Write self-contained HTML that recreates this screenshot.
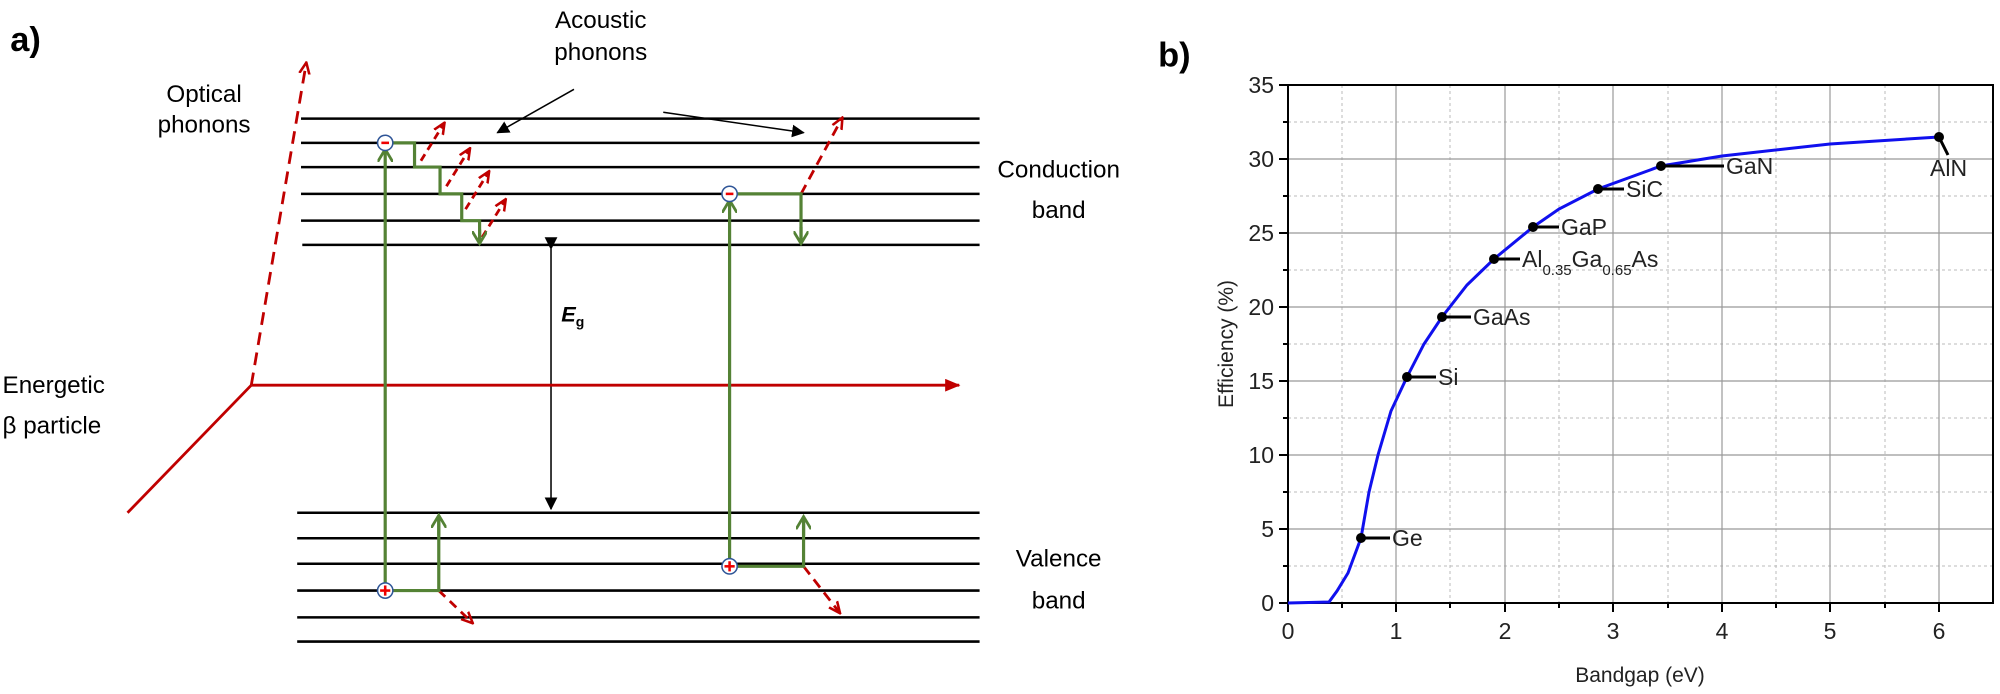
<!DOCTYPE html>
<html><head><meta charset="utf-8"><style>
html,body{margin:0;padding:0;background:#fff}
svg{display:block}
text{font-family:"Liberation Sans",sans-serif}
.pl text, text.pl{font-family:"Liberation Sans Narrow","Liberation Sans",sans-serif}
</style></head><body>
<svg width="2000" height="694" viewBox="0 0 2000 694" xmlns="http://www.w3.org/2000/svg">
<defs>
<marker id="rh" markerWidth="10" markerHeight="10" refX="8" refY="5" orient="auto" markerUnits="userSpaceOnUse"><path d="M0,1 L9,5 L0,9" fill="none" stroke="#c00000" stroke-width="2"/></marker>
<marker id="rf" markerWidth="12" markerHeight="10" refX="11" refY="5" orient="auto" markerUnits="userSpaceOnUse"><path d="M0,0 L12,5 L0,10z" fill="#c00000"/></marker>
<marker id="gh" markerWidth="12" markerHeight="12" refX="10" refY="6" orient="auto" markerUnits="userSpaceOnUse"><path d="M0,0 L10,6 L0,12" fill="none" stroke="#548235" stroke-width="2.2"/></marker>
<marker id="kf" markerWidth="10" markerHeight="10" refX="9" refY="5" orient="auto" markerUnits="userSpaceOnUse"><path d="M0,0 L10,5 L0,10z" fill="#000"/></marker>
</defs>
<g transform="scale(1.2755)">
<text x="8" y="40" font-size="27" font-weight="bold">a)</text>
<text x="160" y="80" font-size="19" text-anchor="middle">Optical</text>
<text x="160" y="104" font-size="19" text-anchor="middle">phonons</text>
<text x="471" y="22" font-size="19" text-anchor="middle">Acoustic</text>
<text x="471" y="47" font-size="19" text-anchor="middle">phonons</text>
<text x="830" y="139" font-size="19" text-anchor="middle">Conduction</text>
<text x="830" y="171" font-size="19" text-anchor="middle">band</text>
<text x="830" y="444" font-size="19" text-anchor="middle">Valence</text>
<text x="830" y="477" font-size="19" text-anchor="middle">band</text>
<text x="2" y="308" font-size="19">Energetic</text>
<text x="2" y="340" font-size="19">β particle</text>
<g stroke="#000" stroke-width="2">
<line x1="236" y1="93" x2="768" y2="93"/><line x1="236" y1="112" x2="768" y2="112"/><line x1="236" y1="131" x2="768" y2="131"/><line x1="236" y1="152" x2="768" y2="152"/><line x1="236" y1="173" x2="768" y2="173"/><line x1="237" y1="192" x2="768" y2="192"/>
<line x1="233" y1="402" x2="768" y2="402"/><line x1="233" y1="422" x2="768" y2="422"/><line x1="233" y1="442" x2="768" y2="442"/><line x1="233" y1="463" x2="768" y2="463"/><line x1="233" y1="484" x2="768" y2="484"/><line x1="233" y1="503" x2="768" y2="503"/>
</g>
<g stroke="#000" stroke-width="1.2">
<line x1="432" y1="195" x2="432" y2="399" marker-start="url(#kf)" marker-end="url(#kf)"/>
<line x1="450" y1="70" x2="390" y2="104" marker-end="url(#kf)"/>
<line x1="520" y1="88" x2="630" y2="104" marker-end="url(#kf)"/>
</g>
<text x="440" y="252" font-size="17" font-weight="bold" font-style="italic">E<tspan font-size="11" dy="4" font-style="normal">g</tspan></text>
<g stroke="#c00000" stroke-width="2.2" fill="none">
<line x1="100" y1="402" x2="197" y2="302"/>
<line x1="197" y1="302" x2="752" y2="302" marker-end="url(#rf)"/>
<line x1="197" y1="302" x2="240" y2="50" stroke-dasharray="10,6" marker-end="url(#rh)"/>
<line x1="330" y1="126" x2="348" y2="97" stroke-dasharray="6,4" marker-end="url(#rh)"/>
<line x1="350" y1="146" x2="368" y2="117" stroke-dasharray="6,4" marker-end="url(#rh)"/>
<line x1="365" y1="164" x2="383" y2="135" stroke-dasharray="6,4" marker-end="url(#rh)"/>
<line x1="378" y1="186" x2="396" y2="157" stroke-dasharray="6,4" marker-end="url(#rh)"/>
<line x1="344" y1="463" x2="370" y2="488" stroke-dasharray="7,5" marker-end="url(#rh)"/>
<line x1="628" y1="152" x2="660" y2="93" stroke-dasharray="8,5" marker-end="url(#rh)"/>
<line x1="630" y1="444" x2="658" y2="480" stroke-dasharray="8,5" marker-end="url(#rh)"/>
</g>
<g stroke="#548235" stroke-width="2.5" fill="none">
<line x1="302" y1="462" x2="302" y2="117" marker-end="url(#gh)"/>
<polyline points="302,112 325,112 325,131 345,131 345,152 362,152 362,173 376,173 376,190"/>
<line x1="376" y1="180" x2="376" y2="191" marker-end="url(#gh)"/>
<polyline points="302,463 344,463 344,405"/>
<line x1="344" y1="420" x2="344" y2="404" marker-end="url(#gh)"/>
<line x1="572" y1="444" x2="572" y2="157" marker-end="url(#gh)"/>
<polyline points="572,152 628,152 628,190"/>
<line x1="628" y1="178" x2="628" y2="191" marker-end="url(#gh)"/>
<polyline points="572,444 630,444 630,406"/>
<line x1="630" y1="420" x2="630" y2="405" marker-end="url(#gh)"/>
</g>
<g stroke="#2f5597" stroke-width="1.2" fill="#fff">
<circle cx="302" cy="112" r="6"/><circle cx="572" cy="152" r="6"/><circle cx="302" cy="463" r="6"/><circle cx="572" cy="444" r="6"/>
</g>
<g stroke="#e00" stroke-width="2">
<line x1="299" y1="112" x2="305" y2="112"/><line x1="569" y1="152" x2="575" y2="152"/>
<line x1="298" y1="463" x2="306" y2="463"/><line x1="302" y1="459" x2="302" y2="467"/>
<line x1="568" y1="444" x2="576" y2="444"/><line x1="572" y1="440" x2="572" y2="448"/>
</g>
<text x="908" y="52" font-size="27" font-weight="bold">b)</text>
</g>
<g class="pl">
<g stroke="#bbb" stroke-width="1" stroke-dasharray="3,3">
<line x1="1342" y1="85" x2="1342" y2="603"/><line x1="1450" y1="85" x2="1450" y2="603"/><line x1="1559" y1="85" x2="1559" y2="603"/><line x1="1668" y1="85" x2="1668" y2="603"/><line x1="1776" y1="85" x2="1776" y2="603"/><line x1="1885" y1="85" x2="1885" y2="603"/>
<line x1="1288" y1="566" x2="1993" y2="566"/><line x1="1288" y1="492" x2="1993" y2="492"/><line x1="1288" y1="418" x2="1993" y2="418"/><line x1="1288" y1="344" x2="1993" y2="344"/><line x1="1288" y1="270" x2="1993" y2="270"/><line x1="1288" y1="196" x2="1993" y2="196"/><line x1="1288" y1="122" x2="1993" y2="122"/>
</g>
<g stroke="#999" stroke-width="1.2">
<line x1="1396" y1="85" x2="1396" y2="603"/><line x1="1505" y1="85" x2="1505" y2="603"/><line x1="1613" y1="85" x2="1613" y2="603"/><line x1="1722" y1="85" x2="1722" y2="603"/><line x1="1830" y1="85" x2="1830" y2="603"/><line x1="1939" y1="85" x2="1939" y2="603"/>
<line x1="1288" y1="529" x2="1993" y2="529"/><line x1="1288" y1="455" x2="1993" y2="455"/><line x1="1288" y1="381" x2="1993" y2="381"/><line x1="1288" y1="307" x2="1993" y2="307"/><line x1="1288" y1="233" x2="1993" y2="233"/><line x1="1288" y1="159" x2="1993" y2="159"/>
</g>
<rect x="1288" y="85" width="705" height="518" fill="none" stroke="#000" stroke-width="2"/>
<g stroke="#000" stroke-width="2">
<line x1="1288" y1="603" x2="1288" y2="612"/><line x1="1396" y1="603" x2="1396" y2="612"/><line x1="1505" y1="603" x2="1505" y2="612"/><line x1="1613" y1="603" x2="1613" y2="612"/><line x1="1722" y1="603" x2="1722" y2="612"/><line x1="1830" y1="603" x2="1830" y2="612"/><line x1="1939" y1="603" x2="1939" y2="612"/>
<line x1="1342" y1="603" x2="1342" y2="608"/><line x1="1450" y1="603" x2="1450" y2="608"/><line x1="1559" y1="603" x2="1559" y2="608"/><line x1="1668" y1="603" x2="1668" y2="608"/><line x1="1776" y1="603" x2="1776" y2="608"/><line x1="1885" y1="603" x2="1885" y2="608"/>
<line x1="1279" y1="603" x2="1288" y2="603"/><line x1="1279" y1="529" x2="1288" y2="529"/><line x1="1279" y1="455" x2="1288" y2="455"/><line x1="1279" y1="381" x2="1288" y2="381"/><line x1="1279" y1="307" x2="1288" y2="307"/><line x1="1279" y1="233" x2="1288" y2="233"/><line x1="1279" y1="159" x2="1288" y2="159"/><line x1="1279" y1="85" x2="1288" y2="85"/>
<line x1="1283" y1="566" x2="1288" y2="566"/><line x1="1283" y1="492" x2="1288" y2="492"/><line x1="1283" y1="418" x2="1288" y2="418"/><line x1="1283" y1="344" x2="1288" y2="344"/><line x1="1283" y1="270" x2="1288" y2="270"/><line x1="1283" y1="196" x2="1288" y2="196"/><line x1="1283" y1="122" x2="1288" y2="122"/>
</g>
<g font-size="23" fill="#222" text-anchor="end">
<text x="1274" y="611">0</text><text x="1274" y="537">5</text><text x="1274" y="463">10</text><text x="1274" y="389">15</text><text x="1274" y="315">20</text><text x="1274" y="241">25</text><text x="1274" y="167">30</text><text x="1274" y="93">35</text>
</g>
<g font-size="23" fill="#222" text-anchor="middle">
<text x="1288" y="639">0</text><text x="1396" y="639">1</text><text x="1505" y="639">2</text><text x="1613" y="639">3</text><text x="1722" y="639">4</text><text x="1830" y="639">5</text><text x="1939" y="639">6</text>
</g>
<text x="1640" y="682" font-size="21" fill="#222" text-anchor="middle">Bandgap (eV)</text>
<text transform="translate(1233,344) rotate(-90)" font-size="21" fill="#222" text-anchor="middle">Efficiency (%)</text>
<polyline fill="none" stroke="#1010ee" stroke-width="3" points="1288,603 1329,602 1337,591 1348,573 1361,538 1369,492 1378,455 1391,411 1407,377 1424,344 1442,317 1467,285 1494,259 1533,227 1559,209 1598,189 1661,166 1722,156 1830,144 1939,137"/>
<g stroke="#000" stroke-width="3">
<line x1="1361" y1="538" x2="1390" y2="538"/>
<line x1="1407" y1="377" x2="1436" y2="377"/>
<line x1="1442" y1="317" x2="1471" y2="317"/>
<line x1="1494" y1="259" x2="1520" y2="259"/>
<line x1="1533" y1="227" x2="1559" y2="227"/>
<line x1="1598" y1="189" x2="1624" y2="189"/>
<line x1="1661" y1="166" x2="1724" y2="166"/>
<line x1="1939" y1="137" x2="1948" y2="155"/>
</g>
<g fill="#000">
<circle cx="1361" cy="538" r="5"/><circle cx="1407" cy="377" r="5"/><circle cx="1442" cy="317" r="5"/><circle cx="1494" cy="259" r="5"/><circle cx="1533" cy="227" r="5"/><circle cx="1598" cy="189" r="5"/><circle cx="1661" cy="166" r="5"/><circle cx="1939" cy="137" r="5"/>
</g>
<g font-size="23" fill="#222">
<text x="1392" y="546">Ge</text>
<text x="1438" y="385">Si</text>
<text x="1473" y="325">GaAs</text>
<text x="1522" y="267">Al<tspan font-size="15" dy="8">0.35</tspan><tspan dy="-8">Ga</tspan><tspan font-size="15" dy="8">0.65</tspan><tspan dy="-8">As</tspan></text>
<text x="1561" y="235">GaP</text>
<text x="1626" y="197">SiC</text>
<text x="1726" y="174">GaN</text>
<text x="1930" y="176">AlN</text>
</g>
</g>
</svg>
</body></html>
